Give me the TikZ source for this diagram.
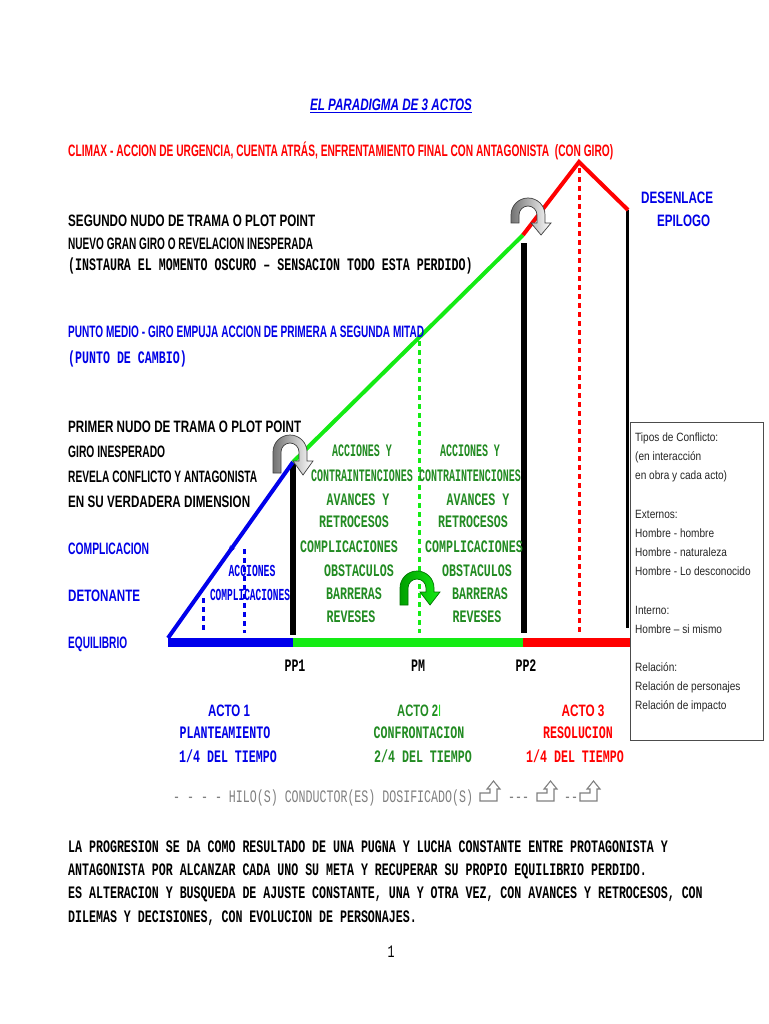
\documentclass[tikz,border=0pt]{standalone}
\usepackage{fontspec}
\setmainfont{Liberation Sans}
\newfontfamily\monof{Liberation Mono}
\usepackage{graphicx}
\usetikzlibrary{arrows.meta}
\definecolor{tblue}{RGB}{0,0,230}
\definecolor{lblue}{RGB}{0,0,235}
\definecolor{lgreen}{RGB}{20,235,20}
\definecolor{dgreen}{RGB}{34,139,34}
\definecolor{tred}{RGB}{255,0,0}
\definecolor{hgray}{RGB}{128,128,128}
\newcommand\fitw[2]{\resizebox{#1pt}{\height}{#2}}
\newcommand\mscale[1]{\scalebox{0.83}[1.25]{#1}}
\newcommand\turnarrow[6]{%
  \begin{scope}[shift={(#1,#2)},y=1pt]
    \path[#6] (-17,-#3) -- (-17,0) arc[start angle=180,end angle=0,radius=17]
      -- (17,-#4) -- (23,-#4) -- (13,-#5) -- (3,-#4) -- (9,-#4) -- (9,0)
      arc[start angle=0,end angle=180,radius=9] -- (-9,-#3) -- cycle;
  \end{scope}}
\newcommand\hiloicon[2]{%
  \draw[hgray, line width=1.1, fill=white, line join=miter] (#1,#2) ++(0,-8) -- ++(10,0) -- ++(0,-4) -- ++(-3,0)
    -- ++(6.5,-8) -- ++(6.5,8) -- ++(-3,0) -- ++(0,12) -- ++(-17,0) -- cycle;}
\begin{document}
\begin{tikzpicture}[x=1pt,y=-1pt,
  sans/.style={inner sep=0pt, anchor=base west, font=\bfseries\fontsize{16.5}{18}\selectfont},
  sansb/.style={inner sep=0pt, anchor=base west, font=\bfseries\fontsize{16.5}{18}\selectfont},
  mono/.style={inner sep=0pt, anchor=base, font=\monof\bfseries\fontsize{14}{16}\selectfont},
  monow/.style={mono, anchor=base west},
  boxt/.style={inner sep=0pt, anchor=base west, font=\fontsize{12}{14}\selectfont, text=black!85},
  grayarrow/.style={draw=black!75, line width=0.7, left color=black!55, middle color=black!20, right color=white},
  greenarrow/.style={draw=black!55!green, line width=0.7, left color={rgb,255:red,0;green,160;blue,0}, right color=lgreen},
  diag/.style={line width=4pt},
  bar/.style={line width=9pt},
  post/.style={line width=6pt, black},
  dots/.style={line width=3pt, dash pattern=on 5pt off 4pt}]
\fill[white] (0,0) rectangle (768,1024);
\useasboundingbox (0,0) rectangle (768,1024);

% key points
\coordinate (eq) at (168,638);
\coordinate (pp1) at (293,462);
\coordinate (pp2) at (523,235);
\coordinate (peak) at (579,162);
\coordinate (endr) at (628,210);
\coordinate (b0) at (168,642);
\coordinate (b1) at (293,642);
\coordinate (b2) at (523,642);
\coordinate (b3) at (630,642);

% conflict box
\draw[black!70, line width=0.8] (630,422) rectangle (763,740);

% baseline bar
\draw[bar, lblue] (b0) -- (b1);
\draw[bar, lgreen] (b1) -- (b2);
\draw[bar, tred] (b2) -- (b3);

% dotted verticals
\draw[dots, tred] (579,168) -- (579,633);
\draw[dots, lgreen] (419,341) -- (419,633);
\draw[dots, lblue] (203,598) -- (203,633);
\draw[dots, lblue] (244,549) -- (244,633);

% posts
\draw[post] (293,463) -- (293,635);
\draw[post] (524,243) -- (524,633);
\draw[line width=3pt, black] (627,210) -- (627,628);

% diagonals
\draw[diag, lblue] (eq) -- (pp1);
\draw[diag, lgreen] (pp1) -- (pp2);
\draw[diag, tred, line join=miter] (pp2) -- (peak) -- (endr);
\draw[lblue, line width=1.3pt, -{Stealth[length=10pt,width=6pt]}] (235,543.5) -- (227,554.8);

% turning arrows
\turnarrow{290}{452}{21}{9}{23}{grayarrow}
\turnarrow{528}{215}{8}{8}{20}{grayarrow}
\turnarrow{417}{588}{17}{4}{17}{greenarrow}

% title and left texts
\node[inner sep=0pt, anchor=base, text=tblue, font=\bfseries\itshape\fontsize{16.5}{18}\selectfont] (title) at (391,111) {\fitw{162}{\underline{EL PARADIGMA DE 3 ACTOS}}};
\node[sans, text=tred] (climax) at (68,157) {\fitw{545}{CLIMAX - ACCION DE URGENCIA, CUENTA ATRÁS, ENFRENTAMIENTO FINAL CON ANTAGONISTA \ (CON GIRO)}};
\node[sansb, text=tblue] (desen) at (641,204) {\fitw{72}{DESENLACE}};
\node[sansb, text=tblue] (epil) at (657,226) {\fitw{53}{EPILOGO}};
\node[sans] (seg) at (68,227) {\fitw{247}{SEGUNDO NUDO DE TRAMA O PLOT POINT}};
\node[sans] (nuevo) at (68,249) {\fitw{245}{NUEVO GRAN GIRO O REVELACION INESPERADA}};
\node[monow] (instaura) at (68,270) {\mscale{(INSTAURA EL MOMENTO OSCURO – SENSACION TODO ESTA PERDIDO)}};
\node[sans, text=tblue] (pmedio) at (68,337) {\fitw{356}{PUNTO MEDIO - GIRO EMPUJA ACCION DE PRIMERA A SEGUNDA MITAD}};
\node[monow, text=tblue] (pcambio) at (68,363) {\mscale{(PUNTO DE CAMBIO)}};
\node[sans] (primer) at (68,432) {\fitw{233}{PRIMER NUDO DE TRAMA O PLOT POINT}};
\node[sans] (giro) at (68,457) {\fitw{97}{GIRO INESPERADO}};
\node[sans] (revela) at (68,482) {\fitw{189}{REVELA CONFLICTO Y ANTAGONISTA}};
\node[sans] (ensu) at (68,507) {\fitw{182}{EN SU VERDADERA DIMENSION}};
\node[sans, text=tblue] (compl) at (68,554) {\fitw{81}{COMPLICACION}};
\node[sans, text=tblue] (deton) at (68,601) {\fitw{72}{DETONANTE}};
\node[sans, text=tblue] (equil) at (68,648) {\fitw{59}{EQUILIBRIO}};

% small blue labels
\node[mono, text=tblue] (sacc) at (252,576) {\fitw{47}{\scalebox{1}[1.2]{ACCIONES}}};
\node[mono, text=tblue] (scomp) at (250,600) {\fitw{80}{\scalebox{1}[1.2]{COMPLICACIONES}}};

% green column 1
\node[mono, text=dgreen] (ga1) at (362,456) {\fitw{60}{\scalebox{1}[1.25]{ACCIONES Y}}};
\node[mono, text=dgreen] (ga2) at (362,481) {\fitw{102}{\scalebox{1}[1.25]{CONTRAINTENCIONES}}};
\node[mono, text=dgreen] (ga3) at (358,505) {\mscale{AVANCES Y}};
\node[mono, text=dgreen] (ga4) at (354,527) {\mscale{RETROCESOS}};
\node[mono, text=dgreen] (ga5) at (349,552) {\mscale{COMPLICACIONES}};
\node[mono, text=dgreen] (ga6) at (359,576) {\mscale{OBSTACULOS}};
\node[mono, text=dgreen] (ga7) at (354,599) {\mscale{BARRERAS}};
\node[mono, text=dgreen] (ga8) at (351,622) {\mscale{REVESES}};
% green column 2
\node[mono, text=dgreen] (gb1) at (470,456) {\fitw{60}{\scalebox{1}[1.25]{ACCIONES Y}}};
\node[mono, text=dgreen] (gb2) at (470,481) {\fitw{102}{\scalebox{1}[1.25]{CONTRAINTENCIONES}}};
\node[mono, text=dgreen] (gb3) at (478,505) {\mscale{AVANCES Y}};
\node[mono, text=dgreen] (gb4) at (473,527) {\mscale{RETROCESOS}};
\node[mono, text=dgreen] (gb5) at (474,552) {\mscale{COMPLICACIONES}};
\node[mono, text=dgreen] (gb6) at (477,576) {\mscale{OBSTACULOS}};
\node[mono, text=dgreen] (gb7) at (480,599) {\mscale{BARRERAS}};
\node[mono, text=dgreen] (gb8) at (477,622) {\mscale{REVESES}};

% plot point labels
\node[mono] (lpp1) at (295,671) {\mscale{PP1}};
\node[mono] (lpm) at (418,671) {\mscale{PM}};
\node[mono] (lpp2) at (526,671) {\mscale{PP2}};

% acts
\node[sansb, anchor=base, text=tblue] (acto1) at (229,716) {\fitw{42}{ACTO 1}};
\node[mono, text=tblue] (plan) at (225,738) {\mscale{PLANTEAMIENTO}};
\node[mono, text=tblue] (t1) at (228,762) {\mscale{1/4 DEL TIEMPO}};
\node[sansb, text=dgreen] (acto2) at (397,716) {\fitw{44}{ACTO 2{\mdseries\color{lgreen}I}}};
\node[mono, text=dgreen] (confr) at (419,738) {\mscale{CONFRONTACION}};
\node[mono, text=dgreen] (t2) at (423,762) {\mscale{2/4 DEL TIEMPO}};
\node[sansb, anchor=base, text=tred] (acto3) at (583,716) {\fitw{43}{ACTO 3}};
\node[mono, text=tred] (resol) at (578,738) {\mscale{RESOLUCION}};
\node[mono, text=tred] (t3) at (575,762) {\mscale{1/4 DEL TIEMPO}};

% conflict box text
\foreach \yy/\txt [count=\i] in {441/Tipos de Conflicto:, 460/(en interacción, 479/en obra y cada acto), 518/Externos:, 537/Hombre - hombre, 556/Hombre - naturaleza, 575/Hombre - Lo desconocido, 614/Interno:, 633/Hombre – si mismo, 671/Relación:, 690/Relación de personajes, 709/Relación de impacto}
  \node[boxt] (bt\i) at (635,\yy) {\scalebox{0.84}[1]{\txt}};

% hilo conductor
\node[monow, font=\monof\fontsize{14}{16}\selectfont, text=hgray] (hilo) at (173,802) {\mscale{- - - - HILO(S) CONDUCTOR(ES) DOSIFICADO(S)}};
\node[monow, font=\monof\fontsize{14}{16}\selectfont, text=hgray] (d1) at (508,802) {\mscale{---}};
\node[monow, font=\monof\fontsize{14}{16}\selectfont, text=hgray] (d2) at (564,802) {\mscale{--}};
\hiloicon{480}{801}
\hiloicon{537}{801}
\hiloicon{580}{801}

% paragraph
\node[monow] (p1) at (68,852) {\mscale{LA PROGRESION SE DA COMO RESULTADO DE UNA PUGNA Y LUCHA CONSTANTE ENTRE PROTAGONISTA Y}};
\node[monow] (p2) at (68,875) {\mscale{ANTAGONISTA POR ALCANZAR CADA UNO SU META Y RECUPERAR SU PROPIO EQUILIBRIO PERDIDO.}};
\node[monow] (p3) at (68,898) {\mscale{ES ALTERACION Y BUSQUEDA DE AJUSTE CONSTANTE, UNA Y OTRA VEZ, CON AVANCES Y RETROCESOS, CON}};
\node[monow] (p4) at (68,922) {\mscale{DILEMAS Y DECISIONES, CON EVOLUCION DE PERSONAJES.}};
\node[mono, font=\monof\fontsize{14}{16}\selectfont] (pgnum) at (391,957) {\mscale{1}};
\end{tikzpicture}
\end{document}
